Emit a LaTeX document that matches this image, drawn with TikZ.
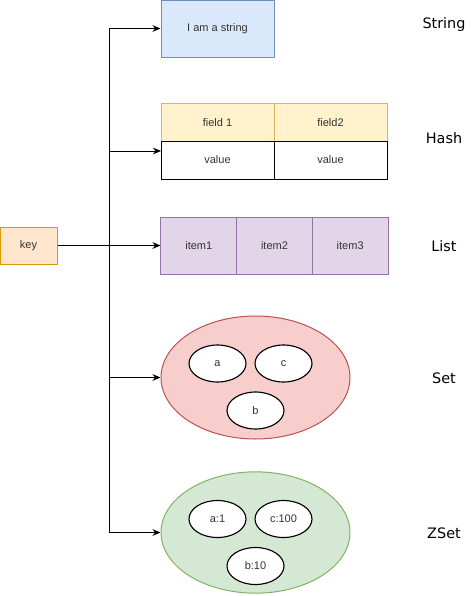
\documentclass[tikz,border=0pt]{standalone}
\usepackage{fontspec}
\setmainfont{Liberation Sans}
\newfontfamily\labelfont{DejaVu Sans}
\usetikzlibrary{shapes.geometric,arrows.meta}
\definecolor{strfill}{HTML}{DAE8FC}
\definecolor{strline}{HTML}{6C8EBF}
\definecolor{hashfill}{HTML}{FFF2CC}
\definecolor{hashline}{HTML}{D6B656}
\definecolor{listfill}{HTML}{E1D5E7}
\definecolor{listline}{HTML}{9673A6}
\definecolor{keyfill}{HTML}{FFE6CC}
\definecolor{keyline}{HTML}{D79B00}
\definecolor{setfill}{HTML}{F8CECC}
\definecolor{setline}{HTML}{B85450}
\definecolor{zsetfill}{HTML}{D5E8D4}
\definecolor{zsetline}{HTML}{82B366}
\definecolor{celltext}{HTML}{333333}

\begin{document}
\begin{tikzpicture}[x=0.75pt,y=-0.75pt,
    cell/.style={draw, rectangle, inner sep=0pt, line width=0.75pt, text=celltext, font=\fontsize{8.25}{10}\selectfont},
    member/.style={draw, ellipse, fill=white, inner sep=0pt, line width=0.85pt, minimum width=42.75pt, minimum height=27.75pt, text=celltext, font=\fontsize{8.25}{10}\selectfont},
    typename/.style={font=\labelfont\fontsize{10.8}{13}\selectfont},
    link/.style={-{Stealth[length=6pt,width=5pt]}, line width=0.7pt}]
  \useasboundingbox (0,0) rectangle (474,596);

  % key
  \node[cell, fill=keyfill, draw=keyline, minimum width=42.75pt, minimum height=27.75pt] (key) at (28.5,245.5) {key};

  % String
  \node[cell, fill=strfill, draw=strline, minimum width=84.75pt, minimum height=42.75pt] (str) at (217.5,28.5) {I am a string};
  \node[typename] (strname) at (444,25) {String};

  % Hash
  \node[cell, fill=hashfill, draw=hashline, minimum width=84.75pt, minimum height=28pt] (f1) at (217.5,122.5) {field 1};
  \node[cell, fill=hashfill, draw=hashline, minimum width=84.75pt, minimum height=28pt] (f2) at (330.5,122.5) {field2};
  \node[cell, fill=white, draw=black, minimum width=84.75pt, minimum height=28.5pt] (v1) at (217.5,160) {value};
  \node[cell, fill=white, draw=black, minimum width=84.75pt, minimum height=28.5pt] (v2) at (330.5,160) {value};
  \coordinate (hashin) at (161,151);
  \node[typename] (hashname) at (444,138) {Hash};

  % List
  \node[cell, fill=listfill, draw=listline, minimum width=56.75pt, minimum height=42.75pt] (i1) at (198.83,245.5) {item1};
  \node[cell, fill=listfill, draw=listline, minimum width=56.75pt, minimum height=42.75pt] (i2) at (274.5,245.5) {item2};
  \node[cell, fill=listfill, draw=listline, minimum width=56.75pt, minimum height=42.75pt] (i3) at (350.17,245.5) {item3};
  \node[typename] (listname) at (444,246) {List};

  % Set
  \node[draw=setline, fill=setfill, ellipse, line width=0.75pt, minimum width=141.75pt, minimum height=92.25pt] (set) at (255.5,377.5) {};
  \node[member] (sa) at (217.5,363.5) {a};
  \node[member] (sc) at (283.5,363.5) {c};
  \node[member] (sb) at (255.5,410.5) {b};
  \node[typename] (setname) at (444,378) {Set};

  % ZSet
  \node[draw=zsetline, fill=zsetfill, ellipse, line width=0.75pt, minimum width=141.75pt, minimum height=91pt] (zset) at (255.5,532.5) {};
  \node[member] (za) at (217.5,519) {a:1};
  \node[member] (zc) at (283.5,519) {c:100};
  \node[member] (zb) at (255.5,566) {b:10};
  \node[typename] (zsetname) at (444,533) {ZSet};

  % connectors
  \coordinate (trunk) at (109,245.5);
  \draw[link] (key.east) -- (i1.west);
  \draw[link] (trunk) |- (str.west);
  \draw[link] (trunk) |- (hashin);
  \draw[link] (trunk) |- (set.west);
  \draw[link] (trunk) |- (zset.west);
\end{tikzpicture}
\end{document}
